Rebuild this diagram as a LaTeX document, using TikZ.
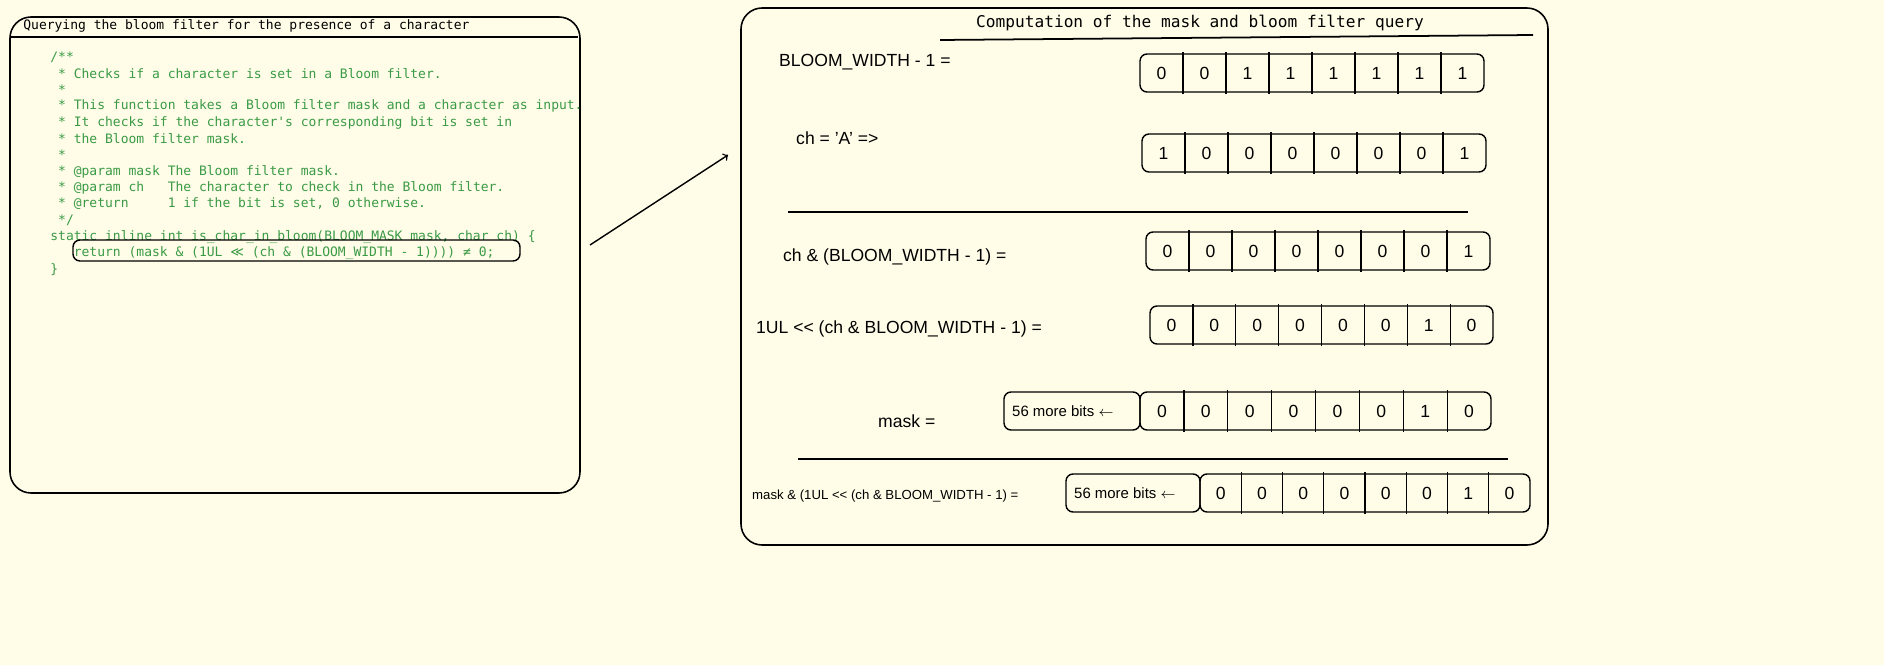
\documentclass[tikz,border=0pt]{standalone}
\usepackage{fontspec}
\setmainfont{Liberation Sans}
\setmonofont{DejaVu Sans Mono}
\usetikzlibrary{positioning}
\definecolor{paper}{HTML}{FFFDE8}
\definecolor{codegreen}{HTML}{3A9A45}
\tikzset{
  frame/.style={draw, line width=0.9pt, rounded corners=12pt},
  rule/.style={line width=1pt},
  bitbox/.style={draw, line width=0.8pt, rounded corners=4pt},
  bitlabel/.style={anchor=west, font=\fontsize{10}{12}\selectfont},
  codeline/.style={anchor=west, inner sep=0pt, text=codegreen, font=\ttfamily\fontsize{7.4}{9}\selectfont},
}
% bit row: name, left, right, top, bottom, bits
\newcommand{\bitrow}[6]{%
  \draw[bitbox] (#2,#4) rectangle (#3,#5);
  \foreach \b [count=\i] in {#6}{%
    \pgfmathsetmacro{\xl}{#2+(\i-1)*(#3-#2)/8}
    \pgfmathsetmacro{\xm}{#2+(\i-0.5)*(#3-#2)/8}
    \ifnum\i>1 \draw[line width=0.7pt] (\xl,#4-2) -- (\xl,#5+2);\fi
    \node[font=\fontsize{10}{12}\selectfont] (#1-\i) at (\xm,{(#4+#5)/2}) {\b};
  }}
\begin{document}
\begin{tikzpicture}[x=0.02cm, y=-0.02cm]
  \fill[paper] (0,0) rectangle (1884,665);
  \useasboundingbox (0,0) rectangle (1884,665);
  % left panel with the code
  \draw[frame] (10,17) rectangle (580,493);
  \draw[rule] (10,37) -- (578,37);
  \node[anchor=west, inner sep=0pt, font=\ttfamily\fontsize{7.4}{9}\selectfont] (lefttitle) at (23,26)
    {Querying the bloom filter for the presence of a character};
  \foreach \t [count=\i] in {%
    {/**},
    {\ * Checks if a character is set in a Bloom filter.},
    {\ *},
    {\ * This function takes a Bloom filter mask and a character as input.},
    {\ * It checks if the character's corresponding bit is set in},
    {\ * the Bloom filter mask.},
    {\ *},
    {\ * @param mask The Bloom filter mask.},
    {\ * @param ch\ \ \ The character to check in the Bloom filter.},
    {\ * @return\ \ \ \ \ 1 if the bit is set, 0 otherwise.},
    {\ */},
    {static inline int is\_char\_in\_bloom(BLOOM\_MASK mask, char ch) \{},
    {\ \ \ return (mask \& (1UL {\fontspec{DejaVu Sans}≪} (ch \& (BLOOM\_WIDTH - 1)))) ≠ 0;},
    {\}}}
    \node[codeline] (code-\i) at (50,{41+\i*16.3}) {\t};
  \draw[line width=0.8pt, rounded corners=4pt] (73,240) rectangle (520,261);
  % arrow to the computation
  \coordinate (from) at (590,245);
  \coordinate (to) at (728,155);
  \draw[->, line width=0.8pt] (from) -- (to);
  % right panel with the computation
  \draw[frame] (741,8) rectangle (1548,545);
  \draw[rule] (940,40) -- (1533,35);
  \node[font=\ttfamily\fontsize{9.2}{11}\selectfont] (righttitle) at (1200,23)
    {Computation of the mask and bloom filter query};
  \node[bitlabel] (l1) at (773,62) {BLOOM\_WIDTH - 1 =};
  \bitrow{r1}{1140}{1484}{54}{92}{0,0,1,1,1,1,1,1}
  \node[bitlabel] (l2) at (790,138) {ch = 'A' =>};
  \bitrow{r2}{1142}{1486}{134}{172}{1,0,0,0,0,0,0,1}
  \draw[rule] (788,212) -- (1468,212);
  \node[bitlabel] (l3) at (777,257) {ch \& (BLOOM\_WIDTH - 1) =};
  \bitrow{r3}{1146}{1490}{232}{270}{0,0,0,0,0,0,0,1}
  \node[bitlabel] (l4) at (750,329) {1UL <{}< (ch \& BLOOM\_WIDTH - 1) =};
  \bitrow{r4}{1150}{1493}{306}{344}{0,0,0,0,0,0,1,0}
  \node[bitlabel] (l5) at (872,421) {mask =};
  \draw[bitbox] (1004,392) rectangle (1140,430);
  \node[bitlabel, font=\fontsize{8.5}{10}\selectfont] (more5) at (1006,411) {56 more bits $\leftarrow$};
  \bitrow{r5}{1140}{1491}{392}{430}{0,0,0,0,0,0,1,0}
  \draw[rule] (798,459) -- (1508,459);
  \node[bitlabel, font=\fontsize{7.5}{9}\selectfont] (l6) at (746,496) {mask \& (1UL <{}< (ch \& BLOOM\_WIDTH - 1) =};
  \draw[bitbox] (1066,474) rectangle (1200,512);
  \node[bitlabel, font=\fontsize{8.5}{10}\selectfont] (more6) at (1068,493) {56 more bits $\leftarrow$};
  \bitrow{r6}{1200}{1530}{474}{512}{0,0,0,0,0,0,1,0}
\end{tikzpicture}
\end{document}
